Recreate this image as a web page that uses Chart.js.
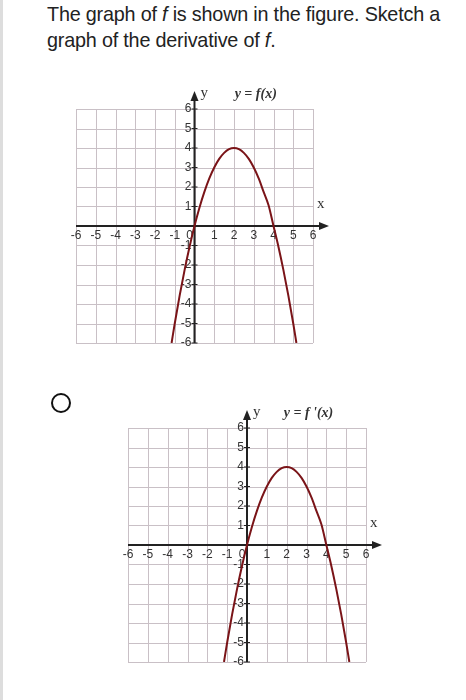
<!DOCTYPE html>
<html><head><meta charset="utf-8">
<script src="https://cdn.jsdelivr.net/npm/chart.js@4"></script>
<style>
body{margin:0;background:#fff;width:466px;height:700px;position:relative;overflow:hidden;font-family:"Liberation Sans",Arial,sans-serif}
.t{position:absolute;left:47px;font-size:19.8px;color:#222;line-height:26px;white-space:nowrap;letter-spacing:-0.2px}
#c1,#c2{position:absolute}
#circ{position:absolute;left:51px;top:393px;width:20px;height:20px;border:2px solid #111;border-radius:50%;box-sizing:border-box}
#edge{position:absolute;left:0;top:0;width:3px;height:700px;background:#ddd}
</style></head><body>
<div id="edge"></div>
<div class="t" style="top:1px">The graph of <i>f</i> is shown in the figure. Sketch a</div>
<div class="t" style="top:27px">graph of the derivative of <i>f</i>.</div>
<div id="circ"></div>
<canvas id="c1" style="left:0;top:80px"></canvas>
<canvas id="c2" style="left:0;top:400px"></canvas>
<script>
const xTicks=[-6,-5,-4,-3,-2,-1,0,1,2,3,4,5,6];
const yTicks=[-6,-5,-4,-3,-2,-1,0,1,2,3,4,5,6];
const curveX=[-1.16,-1,-0.75,-0.5,-0.25,0,0.25,0.5,0.75,1,1.25,1.5,1.75,2,2.25,2.5,2.75,3,3.25,3.5,3.75,4,4.25,4.5,4.75,5,5.16];
const curveY=[-6,-5,-3.56,-2.25,-1.06,0,0.94,1.75,2.44,3,3.44,3.75,3.94,4,3.94,3.75,3.44,3,2.44,1.75,1.06,0,-1.06,-2.25,-3.56,-5,-6];

const gridPlugin={id:'g',beforeDatasetsDraw(ch,a,o){
 const c=ch.ctx,x=ch.scales.x,y=ch.scales.y,A=ch.chartArea;
 c.save();
 c.strokeStyle='#c9c0c6';c.lineWidth=1;
 xTicks.forEach(v=>{const p=Math.round(x.getPixelForValue(v))+0.5;c.beginPath();c.moveTo(p,A.top);c.lineTo(p,A.bottom);c.stroke();});
 yTicks.forEach(v=>{const p=Math.round(y.getPixelForValue(v))+0.5;c.beginPath();c.moveTo(A.left,p);c.lineTo(A.right,p);c.stroke();});
 const x0=x.getPixelForValue(0),y0=y.getPixelForValue(0);
 c.strokeStyle='#222';c.fillStyle='#222';c.lineWidth=2;
 c.beginPath();c.moveTo(A.left,y0);c.lineTo(A.right+12,y0);c.stroke();
 c.beginPath();c.moveTo(A.right+16,y0);c.lineTo(A.right+6,y0-4);c.lineTo(A.right+6,y0+4);c.fill();
 c.beginPath();c.moveTo(x0,A.bottom);c.lineTo(x0,A.top-14);c.stroke();
 c.beginPath();c.moveTo(x0,A.top-18);c.lineTo(x0-4,A.top-8);c.lineTo(x0+4,A.top-8);c.fill();
 c.font='12px "Liberation Sans",Arial';c.fillStyle='#333';c.textAlign='center';c.textBaseline='top';
 xTicks.forEach(v=>{if(v!==0)c.fillText(String(v),x.getPixelForValue(v),y0+4);});
 c.fillText('0',x0-5,y0+4);
 c.textAlign='right';c.textBaseline='middle';
 yTicks.forEach(v=>{if(v!==0){c.fillText(String(v),x0-3,y.getPixelForValue(v));c.beginPath();c.lineWidth=1;c.moveTo(x0-3,y.getPixelForValue(v));c.lineTo(x0+3,y.getPixelForValue(v));c.stroke();}});
 c.font='15px "Liberation Serif",serif';c.textAlign='left';
 c.fillText('y',x0+6,A.top-16);
 c.fillText('x',A.right+4,y0-22);
 c.font='bold italic 14px "Liberation Serif",serif';c.textAlign='center';
 c.fillText(o.label,x.getPixelForValue(3.1),A.top-15);
 c.restore();
}};
function make(id,w,h,pad,label){
 const cv=document.getElementById(id);cv.style.width=w+'px';cv.style.height=h+'px';
 new Chart(cv,{type:'scatter',data:{datasets:[{data:curveX.map((v,i)=>({x:v,y:curveY[i]})),showLine:true,borderColor:'#7a1418',borderWidth:2,pointRadius:0,tension:0.4,cubicInterpolationMode:'monotone'}]},
 options:{responsive:false,animation:false,devicePixelRatio:1,layout:{padding:pad},
 scales:{x:{type:'linear',min:-6,max:6,display:false},y:{type:'linear',min:-6,max:6,display:false}},
 plugins:{legend:{display:false},tooltip:{enabled:false},g:{label:label}}},plugins:[gridPlugin]});
}
document.getElementById('c1').width=360;document.getElementById('c1').height=290;
document.getElementById('c2').width=420;document.getElementById('c2').height=290;
make('c1',360,290,{left:76,right:47,top:29,bottom:27},'y = f(x)');
make('c2',420,290,{left:128,right:54,top:28,bottom:28},"y = f '(x)");
</script></body></html>
